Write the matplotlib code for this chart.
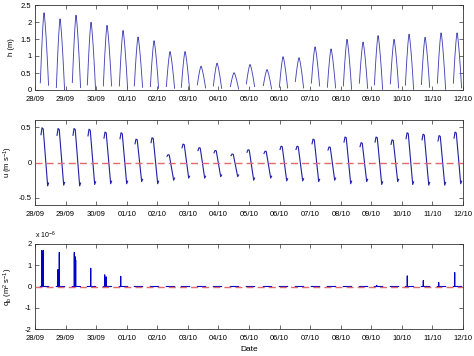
import numpy as np
import matplotlib
matplotlib.use("Agg")
import matplotlib.pyplot as plt
from matplotlib.ticker import FormatStrFormatter

plt.rcParams['font.family'] = ['Liberation Sans', 'DejaVu Sans']
plt.rcParams['mathtext.default'] = 'regular'
plt.rcParams['axes.unicode_minus'] = False

# ---------------- data (days since 28/09 00:00) ----------------
date_labels = ["28/09", "29/09", "30/09", "01/10", "02/10", "03/10", "04/10",
               "05/10", "06/10", "07/10", "08/10", "09/10", "10/10", "11/10", "12/10"]

# time of high water of each tide (days)
t_peak = [0.294, 0.818, 1.341, 1.832, 2.355, 2.879, 3.369, 3.893, 4.416,
          4.907, 5.430, 5.954, 6.510, 7.033, 7.589, 8.113, 8.636, 9.160,
          9.683, 10.206, 10.730, 11.221, 11.744, 12.235, 12.759, 13.282, 13.805]
# water depth at high water (m)
h_peak = [2.27, 2.09, 2.20, 1.99, 1.90, 1.75, 1.56, 1.45, 1.13, 1.13, 0.70,
          0.79, 0.51, 0.75, 0.60, 0.98, 0.95, 1.27, 1.21, 1.49, 1.41, 1.60,
          1.49, 1.64, 1.55, 1.68, 1.68]
# depth at first / last wet record (m)
h_first = [0.21, 0.07, 0.22, 0.15, 0.12, 0.12, 0.12, 0.10, 0.10, 0.08, 0.15,
           0.12, 0.10, 0.18, 0.13, 0.08, 0.25, 0.20, 0.08, 0.12, 0.20, 0.15,
           0.18, 0.14, 0.16, 0.20, 0.20]
h_last = [0.14, 0.00, 0.07, 0.00, 0.12, 0.05, 0.08, 0.05, 0.05, 0.00, 0.06,
          0.05, 0.03, 0.10, 0.03, 0.06, 0.06, 0.12, 0.06, 0.02, 0.05, 0.02,
          0.06, 0.02, 0.08, 0.02, 0.06]
# flood / ebb duration of the wet record (days)
flood_dur = [0.12] * 27
ebb_dur = [0.15] * 27

# velocity: maximum flood and maximum ebb (m/s)
u_flood = [0.49, 0.48, 0.48, 0.47, 0.43, 0.42, 0.33, 0.35, 0.11, 0.26, 0.21,
           0.17, 0.12, 0.18, 0.16, 0.23, 0.23, 0.33, 0.22, 0.36, 0.28, 0.36,
           0.32, 0.42, 0.40, 0.38, 0.43]
u_ebb = [-0.33, -0.32, -0.33, -0.31, -0.30, -0.30, -0.27, -0.30, -0.25, -0.22,
         -0.22, -0.20, -0.20, -0.25, -0.22, -0.26, -0.26, -0.27, -0.25, -0.30,
         -0.27, -0.31, -0.27, -0.31, -0.32, -0.32, -0.30]

# bedload transport spikes (x 1e-6 m2/s)
qb_t = [0.219, 0.228, 0.236, 0.245, 0.255, 0.262, 0.272, 0.752, 0.795,
        1.286, 1.300, 1.315, 1.330, 1.822, 2.280, 2.333, 2.803,
        11.177, 12.178, 12.702, 13.205, 13.728]
qb_v = [1.70, 1.00, 1.40, 1.10, 1.60, 1.20, 1.70, 0.80, 1.60,
        1.60, 1.00, 1.40, 1.25, 0.86, 0.55, 0.45, 0.48,
        0.05, 0.50, 0.28, 0.19, 0.66]

# ---------------- build the curves ----------------
h_t, h_y, u_t, u_y, q_t, q_y = [], [], [], [], [], []
for i, tp in enumerate(t_peak):
    ts, te = tp - flood_dur[i], tp + ebb_dur[i]
    s = np.linspace(0, 1, 25)
    shape = 1 - (1 - s) ** 1.4
    tr = ts + s * flood_dur[i]
    hr = h_first[i] + (h_peak[i] - h_first[i]) * shape
    tf = te - s[::-1][1:] * 0 - (1 - s[1:]) * ebb_dur[i]
    hf = h_last[i] + (h_peak[i] - h_last[i]) * (1 - s[1:] ** 1.4)
    tf = tp + s[1:] * ebb_dur[i]
    h_t += list(tr) + list(tf) + [np.nan]
    h_y += list(hr) + list(hf) + [np.nan]

    uk_t = [tp - 0.098, tp - 0.065, tp - 0.025, tp + 0.12, tp + 0.15]
    uk_y = [0.8 * u_flood[i], u_flood[i], 0.97 * u_flood[i],
            u_ebb[i], 0.88 * u_ebb[i]]
    u_t += uk_t + [np.nan]
    u_y += uk_y + [np.nan]

    pts = [(ts, 0.0), (te, 0.0)]
    for t, v in zip(qb_t, qb_v):
        if ts <= t <= te:
            pts += [(t - 0.004, 0.0), (t, v), (t + 0.004, 0.0)]
    pts.sort()
    q_t += [p[0] for p in pts] + [np.nan]
    q_y += [p[1] for p in pts] + [np.nan]

# ---------------- figure ----------------
fig = plt.figure(figsize=(4.74, 3.56), dpi=100)
L, W, H = 35 / 474, 428 / 474, 85 / 356
tops = [5, 120, 244]
axes = [fig.add_axes([L, 1 - (t + 85) / 356, W, H]) for t in tops]

red = '#e46a6a'
axes[0].plot(h_t, h_y, color='#4646b8', lw=0.65)
axes[1].plot(u_t, u_y, color='#2020a8', lw=0.8)
axes[1].axhline(0, color=red, ls=(0, (5, 3)), lw=1.0, zorder=3)
axes[2].plot(q_t, q_y, color='#0000c8', lw=0.8)
axes[2].axhline(0, color=red, ls=(0, (5, 3)), lw=1.0, zorder=3)

axes[0].set_ylim(0, 2.5)
axes[0].set_yticks([0, 0.5, 1, 1.5, 2, 2.5])
axes[1].set_ylim(-0.6, 0.6)
axes[1].set_yticks([-0.5, 0, 0.5])
axes[2].set_ylim(-2, 2)
axes[2].set_yticks([-2, -1, 0, 1, 2])

axes[0].set_ylabel('h (m)', fontsize=5.5)
axes[1].set_ylabel('u (m s$^{-1}$)', fontsize=5.5)
axes[2].set_ylabel('q$_b$ (m$^2$ s$^{-1}$)', fontsize=5.5)
axes[2].set_xlabel('Date', fontsize=6)
axes[2].xaxis.set_label_coords(0.5, -0.2)
axes[2].text(0, 1.035, 'x 10$^{-6}$', transform=axes[2].transAxes,
             fontsize=5, ha='left', va='bottom')

for ax in axes:
    ax.set_xlim(0, 14)
    ax.set_xticks(range(15))
    ax.set_xticklabels(date_labels)
    ax.yaxis.set_major_formatter(FormatStrFormatter('%g'))
    ax.tick_params(direction='in', length=3, width=0.5, top=True, right=True,
                   labelsize=5.5, color='#333333')
    ax.tick_params(axis='x', pad=4)
    ax.tick_params(axis='y', pad=2.5)
    ax.yaxis.set_label_coords(-0.047, 0.5)
    for sp in ax.spines.values():
        sp.set_color('#333333')
        sp.set_linewidth(0.6)

fig.savefig('out.png', dpi=100)
